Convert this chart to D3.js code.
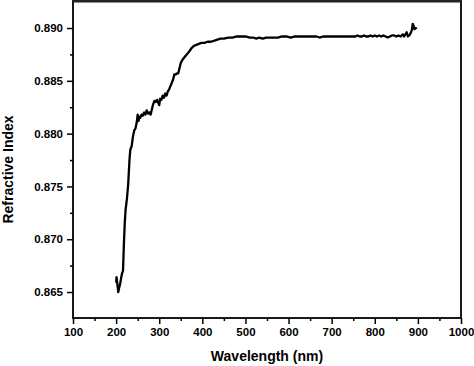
<!DOCTYPE html>
<html>
<head>
<meta charset="utf-8">
<script src="https://cdn.jsdelivr.net/npm/d3@7/dist/d3.min.js"></script>
<style>
  body { margin: 0; background: #fff; }
  svg text { font-family: "Liberation Sans", Arial, sans-serif; font-weight: bold; fill: #000; }
</style>
</head>
<body>
<div id="js-chart"></div>
<script>
// values
const wavelength = [200, 201, 203, 205, 207, 209, 212, 214, 216, 218, 220, 222, 225, 228, 231, 233, 236, 239, 242, 245,
  248, 250, 252, 254, 256, 259, 262, 265, 268, 271, 274, 277, 280, 283, 286, 289, 292, 295, 298, 300,
  302, 305, 308, 311, 314, 317, 320, 323, 326, 329, 332, 335, 338, 341, 344, 347, 350, 354, 358, 362,
  366, 370, 375, 380, 386, 392, 398, 405, 412, 420, 428, 435, 442, 450, 460, 470, 480, 490, 500, 510,
  518, 525, 532, 540, 548, 556, 565, 575, 585, 595, 605, 615, 625, 635, 645, 655, 665, 672, 680, 690,
  700, 710, 720, 730, 740, 750, 755, 760, 765, 770, 775, 780, 785, 790, 795, 800, 805, 810, 815, 820,
  825, 830, 835, 840, 845, 850, 855, 860, 865, 868, 871, 874, 877, 880, 883, 886, 888, 890, 892, 895, 897];
const refIndex = [0.8659, 0.8664, 0.8657, 0.8650, 0.8654, 0.8657, 0.8664, 0.8668, 0.8670, 0.8695, 0.8715, 0.8728, 0.8738, 0.8752, 0.8775, 0.8785, 0.8788, 0.8797, 0.8803, 0.8805,
  0.8811, 0.8818, 0.8812, 0.8816, 0.8815, 0.8818, 0.8817, 0.8820, 0.8818, 0.8822, 0.8819, 0.8820, 0.8818, 0.8823, 0.8828, 0.8831, 0.8830, 0.8832, 0.8829, 0.8827,
  0.8833, 0.8832, 0.8836, 0.8834, 0.8838, 0.8836, 0.8840, 0.8842, 0.8845, 0.8848, 0.8851, 0.8856, 0.8856, 0.8857, 0.8857, 0.8862, 0.8867, 0.8870, 0.8872, 0.8874,
  0.8876, 0.8878, 0.8881, 0.8883, 0.8884, 0.8885, 0.8886, 0.8886, 0.8887, 0.8887, 0.8888, 0.8889, 0.8890, 0.8890, 0.8891, 0.8891, 0.8892, 0.8892, 0.8892, 0.8891,
  0.8891, 0.8890, 0.8891, 0.8890, 0.8891, 0.8891, 0.8891, 0.8891, 0.8892, 0.8892, 0.8891, 0.8892, 0.8892, 0.8892, 0.8892, 0.8892, 0.8892, 0.8891, 0.8892, 0.8892,
  0.8892, 0.8892, 0.8892, 0.8892, 0.8892, 0.8892, 0.8892, 0.8893, 0.8892, 0.8892, 0.8893, 0.8892, 0.8892, 0.8893, 0.8892, 0.8893, 0.8892, 0.8893, 0.8892, 0.8893,
  0.8892, 0.8891, 0.8892, 0.8893, 0.8893, 0.8892, 0.8893, 0.8892, 0.8894, 0.8892, 0.8894, 0.8896, 0.8892, 0.8893, 0.8895, 0.8898, 0.8904, 0.8902, 0.8899, 0.8900, 0.8899];
const xTicks = [100, 200, 300, 400, 500, 600, 700, 800, 900, 1000];
const yTicks = [0.865, 0.870, 0.875, 0.880, 0.885, 0.890];

const width = 474, height = 366;
const m = { left: 73, right: 461, top: 1, bottom: 318 };

const svg = d3.select('#js-chart')
  .append('svg')
  .attr('width', width)
  .attr('height', height);

const x = d3.scaleLinear().domain([100, 1000]).range([m.left, m.right]);
const y = d3.scaleLinear().domain([0.86254, 0.89256]).range([m.bottom, m.top]);

// minor ticks
svg.append('g')
  .attr('transform', `translate(0,${m.bottom})`)
  .call(d3.axisBottom(x).tickValues(d3.range(150, 1000, 100)).tickSize(3).tickFormat(''))
  .call(g => g.select('.domain').remove())
  .call(g => g.selectAll('line').attr('stroke-width', 1.5));
svg.append('g')
  .attr('transform', `translate(${m.left},0)`)
  .call(d3.axisLeft(y).tickValues([0.8675, 0.8725, 0.8775, 0.8825, 0.8875]).tickSize(3).tickFormat(''))
  .call(g => g.select('.domain').remove())
  .call(g => g.selectAll('line').attr('stroke-width', 1.5));

// major axes
svg.append('g')
  .attr('transform', `translate(0,${m.bottom})`)
  .call(d3.axisBottom(x).tickValues(xTicks).tickSize(6).tickPadding(4).tickFormat(d3.format('d')))
  .call(g => g.select('.domain').remove())
  .call(g => g.selectAll('line').attr('stroke-width', 1.5))
  .call(g => g.selectAll('text').attr('font-size', 11.5).attr('font-family', null));

svg.append('g')
  .attr('transform', `translate(${m.left},0)`)
  .call(d3.axisLeft(y).tickValues(yTicks).tickSize(6).tickPadding(4).tickFormat(d3.format('.3f')))
  .call(g => g.select('.domain').remove())
  .call(g => g.selectAll('line').attr('stroke-width', 1.5))
  .call(g => g.selectAll('text').attr('font-size', 11.5).attr('font-family', null));

// frame
svg.append('rect')
  .attr('x', m.left).attr('y', m.top)
  .attr('width', m.right - m.left).attr('height', m.bottom - m.top)
  .attr('fill', 'none').attr('stroke', '#000').attr('stroke-width', 1.8);
svg.append('line')
  .attr('x1', m.left).attr('x2', m.right).attr('y1', 1).attr('y2', 1)
  .attr('stroke', '#222').attr('stroke-width', 3);

// curve
const line = d3.line()
  .x((d, i) => x(wavelength[i]))
  .y(d => y(d));
svg.append('path')
  .datum(refIndex)
  .attr('d', line)
  .attr('fill', 'none')
  .attr('stroke', '#000')
  .attr('stroke-width', 2.3)
  .attr('stroke-linejoin', 'round');

// titles
svg.append('text')
  .attr('x', (m.left + m.right) / 2).attr('y', 361)
  .attr('text-anchor', 'middle')
  .attr('font-size', 14)
  .text('Wavelength (nm)');
svg.append('text')
  .attr('transform', `translate(13,${(m.top + m.bottom) / 2 + 10}) rotate(-90)`)
  .attr('text-anchor', 'middle')
  .attr('font-size', 14)
  .text('Refractive Index');
</script>
</body>
</html>
